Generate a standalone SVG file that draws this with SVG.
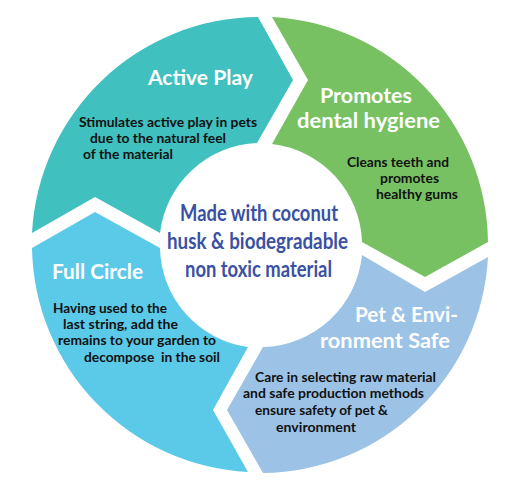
<svg xmlns="http://www.w3.org/2000/svg" width="510" height="488" viewBox="0 0 510 488">
<style>
.title{font-family:"Lato","Open Sans",sans-serif;font-weight:bold;font-size:20.5px;fill:#ffffff}
.desc{font-family:"Lato","Open Sans",sans-serif;font-weight:bold;font-size:12.5px;fill:#111111}
.center{font-family:"Lato","Open Sans",sans-serif;font-weight:bold;font-size:23px;fill:#3a50a3}
</style>
<rect width="510" height="488" fill="#ffffff"/>
<g id="active-play">
<path d="M32,233 A228,228 0 0 1 258,17 L293,80 L257,143 A102,102 0 0 0 160,233 L95,197 Z" fill="#40c0bf"/>
<text class="title" x="148" y="85" textLength="105" lengthAdjust="spacingAndGlyphs">Active Play</text>
<text class="desc" x="79" y="127" textLength="178" lengthAdjust="spacingAndGlyphs">Stimulates active play in pets</text>
<text class="desc" x="90" y="143" textLength="136" lengthAdjust="spacingAndGlyphs">due to the natural feel</text>
<text class="desc" x="83" y="159" textLength="90" lengthAdjust="spacingAndGlyphs">of the material</text>
</g>
<g id="dental-hygiene">
<path d="M272,17 A228,228 0 0 1 488,242 L425,277 L362,242 A102,102 0 0 0 272,144 L308,80 Z" fill="#77c163"/>
<text class="title" x="320" y="103" textLength="92" lengthAdjust="spacingAndGlyphs">Promotes</text>
<text class="title" x="297" y="128" textLength="143" lengthAdjust="spacingAndGlyphs">dental hygiene</text>
<text class="desc" x="347" y="167" textLength="102" lengthAdjust="spacingAndGlyphs">Cleans teeth and</text>
<text class="desc" x="380" y="183" textLength="59" lengthAdjust="spacingAndGlyphs">promotes</text>
<text class="desc" x="376" y="199" textLength="82" lengthAdjust="spacingAndGlyphs">healthy gums</text>
</g>
<g id="pet-environment-safe">
<path d="M488,257 A228,228 0 0 1 263,473 L227,410 L263,347 A102,102 0 0 0 362,255 L425,292 Z" fill="#9cc3e6"/>
<text class="title" x="355" y="322" textLength="103" lengthAdjust="spacingAndGlyphs">Pet &amp; Envi-</text>
<text class="title" x="320" y="348" textLength="130" lengthAdjust="spacingAndGlyphs">ronment Safe</text>
<text class="desc" x="255" y="382" textLength="181" lengthAdjust="spacingAndGlyphs">Care in selecting raw material</text>
<text class="desc" x="243" y="398" textLength="181" lengthAdjust="spacingAndGlyphs">and safe production methods</text>
<text class="desc" x="255" y="415" textLength="133" lengthAdjust="spacingAndGlyphs">ensure safety of pet &amp;</text>
<text class="desc" x="276" y="432" textLength="80" lengthAdjust="spacingAndGlyphs">environment</text>
</g>
<g id="full-circle">
<path d="M248,472 A228,228 0 0 1 32,248 L95,212 L160,248 A102,102 0 0 0 248,347 L213,410 Z" fill="#5bc9e8"/>
<text class="title" x="52" y="279" textLength="91" lengthAdjust="spacingAndGlyphs">Full Circle</text>
<text class="desc" x="53" y="313" textLength="114" lengthAdjust="spacingAndGlyphs">Having used to the</text>
<text class="desc" x="63" y="329" textLength="115" lengthAdjust="spacingAndGlyphs">last string, add the</text>
<text class="desc" x="58" y="345" textLength="158" lengthAdjust="spacingAndGlyphs">remains to your garden to</text>
<text class="desc" x="84" y="362" textLength="136" lengthAdjust="spacingAndGlyphs" xml:space="preserve">decompose  in the soil</text>
</g>
<g id="center">
<text class="center" x="180" y="221" textLength="158" lengthAdjust="spacingAndGlyphs">Made with coconut</text>
<text class="center" x="167" y="249" textLength="181" lengthAdjust="spacingAndGlyphs">husk &amp; biodegradable</text>
<text class="center" x="185" y="277" textLength="147" lengthAdjust="spacingAndGlyphs">non toxic material</text>
</g>
<g id="connectors"/>
</svg>
